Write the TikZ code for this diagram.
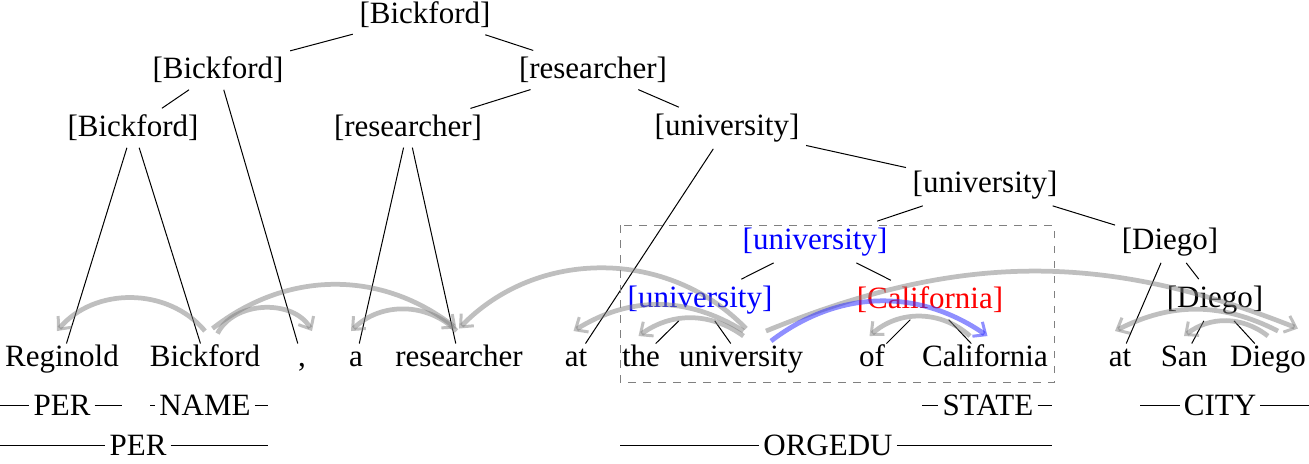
\documentclass[tikz,border=0pt]{standalone}
\usepackage{fontspec}
\setmainfont{Liberation Serif}
\usetikzlibrary{arrows.meta}
\tikzset{
  word/.style={font=\fontsize{12.4}{14}\selectfont, inner sep=1pt, text height=1.7ex, text depth=.3ex},
  brk/.style={font=\fontsize{12.4}{14}\selectfont, inner sep=2.5pt},
  ent/.style={font=\fontsize{12.4}{14}\selectfont, inner sep=1.5pt},
  dep/.style={draw=gray, draw opacity=0.5, line width=1.9pt, -{Straight Barb[length=4pt,width=7pt,line width=1.2pt]}},
  deplink/.style={dep, draw=blue!80, draw opacity=0.55},
}
\begin{document}
\begin{tikzpicture}[x=0.4pt,y=-0.4pt]
\useasboundingbox (0,0) rectangle (1309,463);
% words
\node[word] (w1) at (62,358) {Reginold};
\node[word] (w2) at (205,358) {Bickford};
\node[word] (w3) at (302,358) {,};
\node[word] (w4) at (356,358) {a};
\node[word] (w5) at (459,358) {researcher};
\node[word] (w6) at (576,358) {at};
\node[word] (w7) at (641,358) {the};
\node[word] (w8) at (741,358) {university};
\node[word] (w9) at (872,358) {of};
\node[word] (w10) at (985,358) {California};
\node[word] (w11) at (1120,358) {at};
\node[word] (w12) at (1184,358) {San};
\node[word] (w13) at (1268,358) {Diego};
% tree nodes
\node[brk] (t1) at (425,15) {[Bickford]};
\node[brk] (t2) at (218,70) {[Bickford]};
\node[brk] (t3) at (593,70) {[researcher]};
\node[brk] (t4) at (133,128) {[Bickford]};
\node[brk] (t5) at (408,128) {[researcher]};
\node[brk] (t6) at (727,128) {[university]};
\node[brk] (t7) at (985,185) {[university]};
\node[brk, text=blue] (t8) at (815,242) {[university]};
\node[brk] (t9) at (1170,242) {[Diego]};
\node[brk, text=blue] (t10) at (700,300) {[university]};
\node[brk, text=red] (t11) at (930,300) {[California]};
\node[brk] (t12) at (1215,300) {[Diego]};
% tree edges
\draw (t1) -- (t2);
\draw (t1) -- (t3);
\draw (t2) -- (t4);
\draw (t2) -- (w3);
\draw (t4) -- (w1);
\draw (t4) -- (w2);
\draw (t3) -- (t5);
\draw (t3) -- (t6);
\draw (t5) -- (w4);
\draw (t5) -- (w5);
\draw (t6) -- (w6);
\draw (t6) -- (t7);
\draw (t7) -- (t8);
\draw (t7) -- (t9);
\draw (t8) -- (t10);
\draw (t8) -- (t11);
\draw (t10) -- (w7);
\draw (t10) -- (w8);
\draw (t11) -- (w9);
\draw (t11) -- (w10);
\draw (t9) -- (w11);
\draw (t9) -- (t12);
\draw (t12) -- (w12);
\draw (t12) -- (w13);
% dependency arcs
\draw[dep] ([xshift=0pt,yshift=5pt]w2.north) to[bend right=50] ([xshift=-2pt,yshift=5pt]w1.north);
\draw[dep] ([xshift=5pt,yshift=4pt]w2.north) to[bend left=62] ([xshift=4pt,yshift=5pt]w3.north);
\draw[dep] ([xshift=3pt,yshift=6pt]w2.north) to[bend left=38] ([xshift=-1pt,yshift=6pt]w5.north);
\draw[dep] ([xshift=-1pt,yshift=5pt]w5.north) to[bend right=45] ([xshift=-2pt,yshift=5pt]w4.north);
\draw[dep] ([xshift=2pt,yshift=6pt]w8.north) to[bend right=46] ([xshift=0pt,yshift=6pt]w5.north);
\draw[dep] ([xshift=1pt,yshift=5pt]w8.north) to[bend right=32] ([xshift=-1pt,yshift=5pt]w6.north);
\draw[dep] ([xshift=1pt,yshift=3pt]w8.north) to[bend right=36] ([xshift=-1pt,yshift=3pt]w7.north);
\draw[dep] ([xshift=10pt,yshift=5pt]w8.north) to[bend left=22] ([xshift=12pt,yshift=6pt]w13.north);
\draw[deplink] ([xshift=12pt,yshift=1pt]w8.north) to[bend left=36] ([xshift=1pt,yshift=3pt]w10.north);
\draw[dep] ([xshift=-6pt,yshift=3pt]w10.north) to[bend right=42] ([xshift=-1pt,yshift=3pt]w9.north);
\draw[dep] ([xshift=4pt,yshift=5pt]w13.north) to[bend right=27] ([xshift=-2pt,yshift=5pt]w11.north);
\draw[dep] ([xshift=0pt,yshift=3pt]w13.north) to[bend right=38] ([xshift=0pt,yshift=3pt]w12.north);
% region
\draw[gray, dashed] (620,225) rectangle (1054,382);
% entity spans
\node[ent] (e1) at (62,405) {PER};
\draw (0,405) -- (e1.west) (e1.east) -- (122,405);
\node[ent] (e2) at (205,405) {NAME};
\draw (150,405) -- (e2.west) (e2.east) -- (268,405);
\node[ent] (e3) at (988,405) {STATE};
\draw (922,405) -- (e3.west) (e3.east) -- (1052,405);
\node[ent] (e4) at (1220,405) {CITY};
\draw (1140,405) -- (e4.west) (e4.east) -- (1309,405);
\node[ent] (e5) at (138,445) {PER};
\draw (0,445) -- (e5.west) (e5.east) -- (268,445);
\node[ent] (e6) at (828,445) {ORGEDU};
\draw (620,445) -- (e6.west) (e6.east) -- (1052,445);
\end{tikzpicture}
\end{document}
